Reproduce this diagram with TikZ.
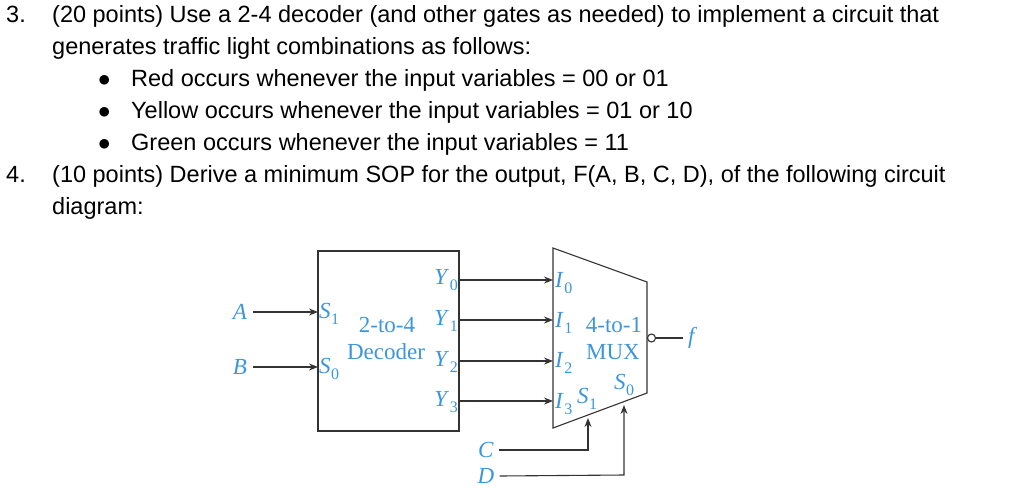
\documentclass[tikz,border=0pt]{standalone}
\usepackage{fontspec}
\setmainfont{Liberation Sans}
\newfontfamily\dserif{Liberation Serif}
\usetikzlibrary{arrows.meta}
\definecolor{lblue}{RGB}{60,150,220}
\newcommand{\vs}[2]{\textit{#1}\kern0.5pt\raisebox{-0.25em}{\fontsize{16}{16}\selectfont #2}}
\begin{document}
\begin{tikzpicture}[x=1pt,y=-1pt,
  txt/.style={anchor=base west,inner sep=0pt,font=\fontsize{23.5}{28}\selectfont},
  lab/.style={inner sep=0pt,text=lblue,font=\dserif\fontsize{23}{26}\selectfont},
  wire/.style={draw=black!80,line width=1.1pt},
  arr/.style={wire,-{Stealth[length=9pt,width=7pt,inset=3pt]}}]
\useasboundingbox (0,0) rectangle (1024,498);
\node[txt] (t1) at (6,22) {3.};
\node[txt] (t1b) at (52,22) {(20 points) Use a 2-4 decoder (and other gates as needed) to implement a circuit that};
\node[txt] (t2) at (52,54) {generates traffic light combinations as follows:};
\node[txt] (b1) at (98,86) {$\bullet$};
\node[txt] (t3) at (131,86) {Red occurs whenever the input variables = 00 or 01};
\node[txt] (b2) at (98,118) {$\bullet$};
\node[txt] (t4) at (131,118) {Yellow occurs whenever the input variables = 01 or 10};
\node[txt] (b3) at (98,150) {$\bullet$};
\node[txt] (t5) at (131,150) {Green occurs whenever the input variables = 11};
\node[txt] (t6) at (6,182) {4.};
\node[txt] (t6b) at (52,182) {(10 points) Derive a minimum SOP for the output, F(A, B, C, D), of the following circuit};
\node[txt] (t7) at (52,214) {diagram:};
% decoder
\node[draw=black!80,line width=1.1pt,minimum width=141pt,minimum height=180pt,inner sep=0pt] (dec) at (388.5,341) {};
% mux
\coordinate (m1) at (553,248); \coordinate (m2) at (647,282);
\coordinate (m3) at (647,393); \coordinate (m4) at (553,428);
\draw[wire] (m1) -- (m2) -- (m3) -- (m4) -- cycle;
\node[draw=black!80,line width=1.1pt,circle,minimum size=8pt,inner sep=0pt] (bub) at (651.5,338) {};
\coordinate (fo) at (683,338);
\draw[wire] (bub) -- (fo);
\node[lab,anchor=west] (f) at (688,338) {\textit{f}};
% labels
\node[lab] (A) at (240,312) {\textit{A}};
\node[lab] (B) at (240,367) {\textit{B}};
\node[lab] (C) at (486,450) {\textit{C}};
\node[lab] (D) at (486,476) {\textit{D}};
\node[lab,anchor=west] (s1) at (319,314) {\vs{S}{1}};
\node[lab,anchor=west] (s0) at (319,369) {\vs{S}{0}};
\node[lab] (dt1) at (387,325) {2-to-4};
\node[lab] (dt2) at (386,352) {Decoder};
\node[lab,anchor=east] (y0) at (458,280) {\vs{Y}{0}};
\node[lab,anchor=east] (y1) at (458,321) {\vs{Y}{1}};
\node[lab,anchor=east] (y2) at (458,362) {\vs{Y}{2}};
\node[lab,anchor=east] (y3) at (458,402) {\vs{Y}{3}};
\node[lab,anchor=west] (i0) at (555,283) {\vs{I}{0}};
\node[lab,anchor=west] (i1) at (555,323) {\vs{I}{1}};
\node[lab,anchor=west] (i2) at (555,363) {\vs{I}{2}};
\node[lab,anchor=west] (i3) at (555,404) {\vs{I}{3}};
\node[lab] (mt1) at (614,325) {4-to-1};
\node[lab] (mt2) at (613,352) {MUX};
\node[lab] (ms1) at (587,399) {\vs{S}{1}};
\node[lab] (ms0) at (624,385) {\vs{S}{0}};
% wires
\coordinate (ai) at (318,312); \coordinate (bi) at (318,367);
\draw[arr] (A.east) ++(6,0) -- (ai);
\draw[arr] (B.east) ++(6,0) -- (bi);
\foreach \y/\n in {280/0,320/1,361/2,401/3}{
  \coordinate (yo\n) at (459,\y); \coordinate (ii\n) at (553,\y);
  \draw[arr] (yo\n) -- (ii\n);
}
\coordinate (cc) at (588,450); \coordinate (ct) at (588,418);
\coordinate (dc) at (624,475); \coordinate (dt) at (624,405);
\draw[arr] (C.east) ++(5,0) -- (cc) -- (ct);
\draw[arr] (D.east) ++(5,0) -- (dc) -- (dt);
\end{tikzpicture}
\end{document}
